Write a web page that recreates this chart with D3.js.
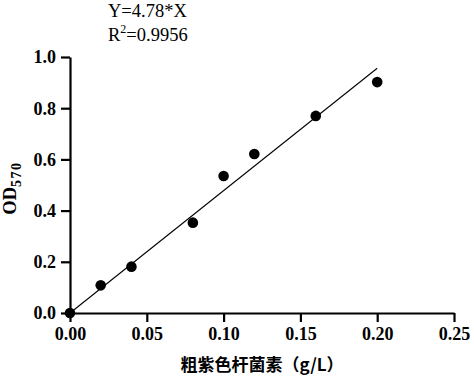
<!DOCTYPE html>
<html><head><meta charset="utf-8">
<script src="https://cdn.jsdelivr.net/npm/d3@7"></script>
<style>body{margin:0;background:#fff}</style></head>
<body><svg id="c" width="474" height="379"></svg>
<script>
const xValues = [0, 0.02, 0.04, 0.08, 0.10, 0.12, 0.16, 0.20];
const yValues = [0, 0.108, 0.181, 0.353, 0.535, 0.621, 0.770, 0.902];
const slope = 4.78;
const fitRange = [0, 0.2];
const xTicks = [0, 0.05, 0.10, 0.15, 0.20, 0.25];
const yTicks = [0, 0.2, 0.4, 0.6, 0.8, 1.0];

const svg = d3.select("#c");
const x = d3.scaleLinear().domain([0, 0.25]).range([70, 454]);
const y = d3.scaleLinear().domain([0, 1.0]).range([313, 57]);
const serif = "'Liberation Serif','Times New Roman',serif";

const gx = svg.append("g").attr("transform", "translate(0,313)")
  .call(d3.axisBottom(x).tickValues(xTicks).tickFormat(d3.format(".2f")).tickSize(9).tickSizeOuter(0));
const gy = svg.append("g").attr("transform", "translate(70,0)")
  .call(d3.axisLeft(y).tickValues(yTicks).tickFormat(d3.format(".1f")).tickSize(9).tickSizeOuter(0));
[gx, gy].forEach(g => {
  g.select(".domain").attr("stroke", "#000").attr("stroke-width", 2.2);
  g.selectAll(".tick line").attr("stroke", "#000").attr("stroke-width", 2.2);
  g.selectAll(".tick text").attr("font-family", serif).attr("font-weight", "bold")
    .attr("font-size", 18).attr("fill", "#000");
});
gx.selectAll(".tick text").attr("y", 14).attr("dy", "0.71em");
gy.selectAll(".tick text").attr("x", -14).attr("dy", "0.33em");

svg.append("line")
  .attr("x1", x(fitRange[0])).attr("y1", y(slope * fitRange[0]))
  .attr("x2", x(fitRange[1])).attr("y2", y(slope * fitRange[1]))
  .attr("stroke", "#000").attr("stroke-width", 1.1);

svg.append("g").selectAll("circle").data(xValues.map((v, i) => [v, yValues[i]]))
  .join("circle").attr("cx", d => x(d[0])).attr("cy", d => y(d[1])).attr("r", 5.3).attr("fill", "#000");

svg.append("text").attr("x", 108).attr("y", 17).attr("font-family", serif).attr("font-size", 18.5)
  .text("Y=4.78*X");
const r2 = svg.append("text").attr("x", 108).attr("y", 41).attr("font-family", serif).attr("font-size", 18.5);
r2.append("tspan").text("R");
r2.append("tspan").attr("dy", -8).attr("font-size", 12).text("2");
r2.append("tspan").attr("dy", 8).text("=0.9956");

const yl = svg.append("text").attr("transform", "translate(16,188) rotate(-90)")
  .attr("text-anchor", "middle").attr("font-family", serif).attr("font-weight", "bold").attr("font-size", 18.5);
yl.append("tspan").text("OD");
yl.append("tspan").attr("dy", 5).attr("font-size", 14).attr("letter-spacing", 1.5).text("570");

svg.append("text").attr("x", 262).attr("y", 371).attr("text-anchor", "middle")
  .attr("font-family", "'Noto Sans CJK SC',sans-serif").attr("font-weight", "bold").attr("font-size", 17)
  .text("粗紫色杆菌素（g/L）");
</script></body></html>
